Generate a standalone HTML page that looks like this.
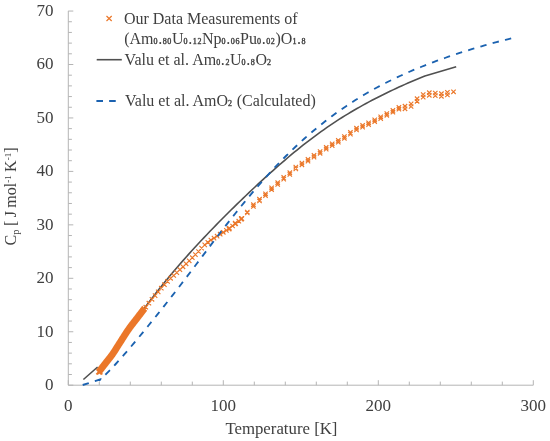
<!DOCTYPE html>
<html><head><meta charset="utf-8"><title>Heat capacity</title>
<style>
html,body{margin:0;padding:0;background:#fff;}
body{width:550px;height:441px;overflow:hidden;}
svg{display:block;}
text{font-family:"Liberation Serif",serif;fill:#404040;}
.t{font-size:17px;}
.l{font-size:16px;}
.s{font-size:8px;letter-spacing:0.62px;stroke:#444;stroke-width:0.4px;}
.d{letter-spacing:0.6px;}
.u{font-size:9px;}
</style></head><body>
<svg width="550" height="441" viewBox="0 0 550 441">
<rect width="550" height="441" fill="#fff"/>
<path d="M68.3,10.9V385.2H533.3" fill="none" stroke="#b4b4b4" stroke-width="1"/>
<path d="M68.3,385.20h5M68.3,374.51h3.6M68.3,363.82h3.6M68.3,353.13h3.6M68.3,342.44h3.6M68.3,331.75h5M68.3,321.06h3.6M68.3,310.37h3.6M68.3,299.68h3.6M68.3,288.99h3.6M68.3,278.30h5M68.3,267.61h3.6M68.3,256.92h3.6M68.3,246.23h3.6M68.3,235.54h3.6M68.3,224.85h5M68.3,214.16h3.6M68.3,203.47h3.6M68.3,192.78h3.6M68.3,182.09h3.6M68.3,171.40h5M68.3,160.71h3.6M68.3,150.02h3.6M68.3,139.33h3.6M68.3,128.64h3.6M68.3,117.95h5M68.3,107.26h3.6M68.3,96.57h3.6M68.3,85.88h3.6M68.3,75.19h3.6M68.3,64.50h5M68.3,53.81h3.6M68.3,43.12h3.6M68.3,32.43h3.6M68.3,21.74h3.6M68.3,11.05h5M68.30,385.2v-5M99.30,385.2v-3.6M130.30,385.2v-3.6M161.30,385.2v-3.6M192.30,385.2v-3.6M223.30,385.2v-5M254.30,385.2v-3.6M285.30,385.2v-3.6M316.30,385.2v-3.6M347.30,385.2v-3.6M378.30,385.2v-5M409.30,385.2v-3.6M440.30,385.2v-3.6M471.30,385.2v-3.6M502.30,385.2v-3.6M533.30,385.2v-5" fill="none" stroke="#b4b4b4" stroke-width="1"/>
<g class="t"><text x="53.5" y="390.0" text-anchor="end">0</text><text x="53.5" y="336.6" text-anchor="end">10</text><text x="53.5" y="283.1" text-anchor="end">20</text><text x="53.5" y="229.7" text-anchor="end">30</text><text x="53.5" y="176.2" text-anchor="end">40</text><text x="53.5" y="122.7" text-anchor="end">50</text><text x="53.5" y="69.3" text-anchor="end">60</text><text x="53.5" y="15.9" text-anchor="end">70</text><text x="68.2" y="411" text-anchor="middle">0</text><text x="223.2" y="411" text-anchor="middle">100</text><text x="378.2" y="411" text-anchor="middle">200</text><text x="533.2" y="411" text-anchor="middle">300</text></g>
<path d="M83.4,379.5L97.6,367M138.0,316.95 L141.0,312.82 L144.0,308.75 L147.0,304.74 L150.0,300.78 L153.0,296.89 L156.0,293.04 L159.0,289.25 L162.0,285.50 L165.0,281.81 L168.0,278.17 L171.0,274.57 L174.0,271.01 L177.0,267.50 L180.0,264.03 L183.0,260.61 L186.0,257.21 L189.0,253.86 L192.0,250.54 L195.0,247.26 L198.0,244.01 L201.0,240.79 L204.0,237.60 L207.0,234.43 L210.0,231.30 L213.0,228.19 L216.0,225.10 L219.0,222.04 L222.0,219.01 L225.0,215.99 L228.0,213.00 L231.0,210.03 L234.0,207.07 L237.0,204.14 L240.0,201.23 L243.0,198.34 L246.0,195.46 L249.0,192.61 L252.0,189.78 L255.0,186.96 L258.0,184.17 L261.0,181.40 L264.0,178.65 L267.0,175.92 L270.0,173.21 L273.0,170.53 L276.0,167.87 L279.0,165.23 L282.0,162.63 L285.0,160.05 L288.0,157.50 L291.0,154.98 L294.0,152.49 L297.0,150.03 L300.0,147.61 L303.0,145.22 L306.0,142.87 L309.0,140.55 L312.0,138.27 L315.0,136.03 L318.0,133.83 L321.0,131.66 L324.0,129.53 L327.0,127.44 L330.0,125.39 L333.0,123.37 L336.0,121.39 L339.0,119.45 L342.0,117.55 L345.0,115.68 L348.0,113.84 L351.0,112.04 L354.0,110.28 L357.0,108.54 L360.0,106.84 L363.0,105.17 L366.0,103.53 L369.0,101.91 L372.0,100.32 L375.0,98.76 L378.0,97.22 L381.0,95.71 L384.0,94.22 L387.0,92.75 L390.0,91.30 L393.0,89.88 L396.0,88.47 L399.0,87.09 L402.0,85.72 L405.0,84.38 L408.0,83.05 L411.0,81.74 L414.0,80.45 L417.0,79.18 L420.0,77.93 L423.0,76.70 L424.9,75.93L456.2,66.7" fill="none" stroke="#505050" stroke-width="1.6" stroke-linejoin="round"/>
<path d="M143.6,305.0l4.4,4.4m-4.4,0l4.4,-4.4M146.7,301.0l4.4,4.4m-4.4,0l4.4,-4.4M149.8,297.1l4.4,4.4m-4.4,0l4.4,-4.4M152.9,293.4l4.4,4.4m-4.4,0l4.4,-4.4M156.0,289.7l4.4,4.4m-4.4,0l4.4,-4.4M159.1,286.0l4.4,4.4m-4.4,0l4.4,-4.4M162.2,282.5l4.4,4.4m-4.4,0l4.4,-4.4M165.3,279.2l4.4,4.4m-4.4,0l4.4,-4.4M168.4,276.1l4.4,4.4m-4.4,0l4.4,-4.4M171.5,273.3l4.4,4.4m-4.4,0l4.4,-4.4M174.6,270.4l4.4,4.4m-4.4,0l4.4,-4.4M177.7,267.5l4.4,4.4m-4.4,0l4.4,-4.4M180.8,264.6l4.4,4.4m-4.4,0l4.4,-4.4M183.9,261.6l4.4,4.4m-4.4,0l4.4,-4.4M187.0,258.6l4.4,4.4m-4.4,0l4.4,-4.4M190.1,255.5l4.4,4.4m-4.4,0l4.4,-4.4M193.2,252.4l4.4,4.4m-4.4,0l4.4,-4.4M196.3,249.3l4.4,4.4m-4.4,0l4.4,-4.4M199.4,245.9l4.4,4.4m-4.4,0l4.4,-4.4M202.5,242.7l4.4,4.4m-4.4,0l4.4,-4.4M205.6,240.1l4.4,4.4m-4.4,0l4.4,-4.4M208.7,237.9l4.4,4.4m-4.4,0l4.4,-4.4M211.8,235.9l4.4,4.4m-4.4,0l4.4,-4.4M214.9,233.9l4.4,4.4m-4.4,0l4.4,-4.4M218.0,232.0l4.4,4.4m-4.4,0l4.4,-4.4M221.1,230.1l4.4,4.4m-4.4,0l4.4,-4.4M224.2,228.2l4.4,4.4m-4.4,0l4.4,-4.4M227.3,226.1l4.4,4.4m-4.4,0l4.4,-4.4M230.4,223.8l4.4,4.4m-4.4,0l4.4,-4.4M233.5,221.4l4.4,4.4m-4.4,0l4.4,-4.4M236.6,219.0l4.4,4.4m-4.4,0l4.4,-4.4M239.7,216.4l4.4,4.4m-4.4,0l4.4,-4.4M226.9,226.2l4.4,4.4m-4.4,0l4.4,-4.4M233.0,220.8l4.4,4.4m-4.4,0l4.4,-4.4M239.1,216.3l4.4,4.4m-4.4,0l4.4,-4.4M245.1,209.8l4.4,4.4m-4.4,0l4.4,-4.4M251.2,202.5l4.4,4.4m-4.4,0l4.4,-4.4M257.3,197.0l4.4,4.4m-4.4,0l4.4,-4.4M263.3,191.6l4.4,4.4m-4.4,0l4.4,-4.4M269.4,185.7l4.4,4.4m-4.4,0l4.4,-4.4M275.5,180.5l4.4,4.4m-4.4,0l4.4,-4.4M281.5,175.1l4.4,4.4m-4.4,0l4.4,-4.4M287.6,170.5l4.4,4.4m-4.4,0l4.4,-4.4M293.6,164.9l4.4,4.4m-4.4,0l4.4,-4.4M299.7,160.8l4.4,4.4m-4.4,0l4.4,-4.4M305.8,157.1l4.4,4.4m-4.4,0l4.4,-4.4M311.8,153.1l4.4,4.4m-4.4,0l4.4,-4.4M317.9,149.3l4.4,4.4m-4.4,0l4.4,-4.4M324.0,145.1l4.4,4.4m-4.4,0l4.4,-4.4M330.0,141.6l4.4,4.4m-4.4,0l4.4,-4.4M336.1,138.2l4.4,4.4m-4.4,0l4.4,-4.4M342.2,134.3l4.4,4.4m-4.4,0l4.4,-4.4M348.2,130.1l4.4,4.4m-4.4,0l4.4,-4.4M354.3,126.0l4.4,4.4m-4.4,0l4.4,-4.4M360.4,123.1l4.4,4.4m-4.4,0l4.4,-4.4M366.4,120.6l4.4,4.4m-4.4,0l4.4,-4.4M372.5,117.7l4.4,4.4m-4.4,0l4.4,-4.4M378.5,114.6l4.4,4.4m-4.4,0l4.4,-4.4M384.6,111.3l4.4,4.4m-4.4,0l4.4,-4.4M390.7,108.2l4.4,4.4m-4.4,0l4.4,-4.4M396.7,105.2l4.4,4.4m-4.4,0l4.4,-4.4M402.8,104.0l4.4,4.4m-4.4,0l4.4,-4.4M408.9,101.7l4.4,4.4m-4.4,0l4.4,-4.4M414.9,96.5l4.4,4.4m-4.4,0l4.4,-4.4M421.0,92.3l4.4,4.4m-4.4,0l4.4,-4.4M427.1,90.5l4.4,4.4m-4.4,0l4.4,-4.4M433.1,90.8l4.4,4.4m-4.4,0l4.4,-4.4M439.2,91.5l4.4,4.4m-4.4,0l4.4,-4.4M445.2,90.1l4.4,4.4m-4.4,0l4.4,-4.4M451.3,89.6l4.4,4.4m-4.4,0l4.4,-4.4M226.9,227.0l4.4,4.4m-4.4,0l4.4,-4.4M233.0,221.6l4.4,4.4m-4.4,0l4.4,-4.4M239.1,217.1l4.4,4.4m-4.4,0l4.4,-4.4M245.1,210.6l4.4,4.4m-4.4,0l4.4,-4.4M251.2,204.3l4.4,4.4m-4.4,0l4.4,-4.4M257.3,198.8l4.4,4.4m-4.4,0l4.4,-4.4M263.3,193.4l4.4,4.4m-4.4,0l4.4,-4.4M269.4,187.5l4.4,4.4m-4.4,0l4.4,-4.4M275.5,182.3l4.4,4.4m-4.4,0l4.4,-4.4M281.5,176.9l4.4,4.4m-4.4,0l4.4,-4.4M287.6,172.3l4.4,4.4m-4.4,0l4.4,-4.4M293.6,166.7l4.4,4.4m-4.4,0l4.4,-4.4M299.7,162.6l4.4,4.4m-4.4,0l4.4,-4.4M305.8,158.9l4.4,4.4m-4.4,0l4.4,-4.4M311.8,154.9l4.4,4.4m-4.4,0l4.4,-4.4M317.9,151.1l4.4,4.4m-4.4,0l4.4,-4.4M324.0,146.9l4.4,4.4m-4.4,0l4.4,-4.4M330.0,143.4l4.4,4.4m-4.4,0l4.4,-4.4M336.1,140.0l4.4,4.4m-4.4,0l4.4,-4.4M342.2,136.1l4.4,4.4m-4.4,0l4.4,-4.4M348.2,131.9l4.4,4.4m-4.4,0l4.4,-4.4M354.3,127.8l4.4,4.4m-4.4,0l4.4,-4.4M360.4,124.9l4.4,4.4m-4.4,0l4.4,-4.4M366.4,122.4l4.4,4.4m-4.4,0l4.4,-4.4M372.5,119.5l4.4,4.4m-4.4,0l4.4,-4.4M378.5,116.4l4.4,4.4m-4.4,0l4.4,-4.4M384.6,113.1l4.4,4.4m-4.4,0l4.4,-4.4M390.7,110.0l4.4,4.4m-4.4,0l4.4,-4.4M396.7,107.0l4.4,4.4m-4.4,0l4.4,-4.4M402.8,106.6l4.4,4.4m-4.4,0l4.4,-4.4M408.9,104.3l4.4,4.4m-4.4,0l4.4,-4.4M414.9,99.1l4.4,4.4m-4.4,0l4.4,-4.4M421.0,94.9l4.4,4.4m-4.4,0l4.4,-4.4M427.1,93.1l4.4,4.4m-4.4,0l4.4,-4.4M433.1,93.4l4.4,4.4m-4.4,0l4.4,-4.4M439.2,94.1l4.4,4.4m-4.4,0l4.4,-4.4M445.2,92.7l4.4,4.4m-4.4,0l4.4,-4.4" fill="none" stroke="#eb7729" stroke-width="1.15"/>
<path d="M96.8,368.8l4.9,4.9m-4.9,0l4.9,-4.9M97.1,368.4l4.9,4.9m-4.9,0l4.9,-4.9M97.4,368.0l4.9,4.9m-4.9,0l4.9,-4.9M97.7,367.6l4.9,4.9m-4.9,0l4.9,-4.9M98.0,367.2l4.9,4.9m-4.9,0l4.9,-4.9M98.3,366.8l4.9,4.9m-4.9,0l4.9,-4.9M98.6,366.5l4.9,4.9m-4.9,0l4.9,-4.9M98.9,366.1l4.9,4.9m-4.9,0l4.9,-4.9M99.2,365.7l4.9,4.9m-4.9,0l4.9,-4.9M99.5,365.3l4.9,4.9m-4.9,0l4.9,-4.9M99.8,364.9l4.9,4.9m-4.9,0l4.9,-4.9M100.1,364.5l4.9,4.9m-4.9,0l4.9,-4.9M100.4,364.1l4.9,4.9m-4.9,0l4.9,-4.9M100.7,363.8l4.9,4.9m-4.9,0l4.9,-4.9M101.0,363.4l4.9,4.9m-4.9,0l4.9,-4.9M101.3,363.0l4.9,4.9m-4.9,0l4.9,-4.9M101.6,362.6l4.9,4.9m-4.9,0l4.9,-4.9M101.9,362.2l4.9,4.9m-4.9,0l4.9,-4.9M102.2,361.8l4.9,4.9m-4.9,0l4.9,-4.9M102.5,361.5l4.9,4.9m-4.9,0l4.9,-4.9M102.8,361.1l4.9,4.9m-4.9,0l4.9,-4.9M103.1,360.7l4.9,4.9m-4.9,0l4.9,-4.9M103.4,360.3l4.9,4.9m-4.9,0l4.9,-4.9M103.7,359.9l4.9,4.9m-4.9,0l4.9,-4.9M104.0,359.5l4.9,4.9m-4.9,0l4.9,-4.9M104.3,359.1l4.9,4.9m-4.9,0l4.9,-4.9M104.6,358.8l4.9,4.9m-4.9,0l4.9,-4.9M104.9,358.4l4.9,4.9m-4.9,0l4.9,-4.9M105.2,358.0l4.9,4.9m-4.9,0l4.9,-4.9M105.5,357.6l4.9,4.9m-4.9,0l4.9,-4.9M105.8,357.3l4.9,4.9m-4.9,0l4.9,-4.9M106.1,356.9l4.9,4.9m-4.9,0l4.9,-4.9M106.4,356.5l4.9,4.9m-4.9,0l4.9,-4.9M106.7,356.1l4.9,4.9m-4.9,0l4.9,-4.9M107.0,355.7l4.9,4.9m-4.9,0l4.9,-4.9M107.3,355.4l4.9,4.9m-4.9,0l4.9,-4.9M107.6,355.0l4.9,4.9m-4.9,0l4.9,-4.9M107.9,354.6l4.9,4.9m-4.9,0l4.9,-4.9M108.2,354.2l4.9,4.9m-4.9,0l4.9,-4.9M108.5,353.8l4.9,4.9m-4.9,0l4.9,-4.9M108.8,353.4l4.9,4.9m-4.9,0l4.9,-4.9M109.1,353.0l4.9,4.9m-4.9,0l4.9,-4.9M109.4,352.6l4.9,4.9m-4.9,0l4.9,-4.9M109.7,352.2l4.9,4.9m-4.9,0l4.9,-4.9M110.0,351.8l4.9,4.9m-4.9,0l4.9,-4.9M110.3,351.3l4.9,4.9m-4.9,0l4.9,-4.9M110.6,350.9l4.9,4.9m-4.9,0l4.9,-4.9M110.9,350.5l4.9,4.9m-4.9,0l4.9,-4.9M111.2,350.0l4.9,4.9m-4.9,0l4.9,-4.9M111.5,349.6l4.9,4.9m-4.9,0l4.9,-4.9M111.8,349.1l4.9,4.9m-4.9,0l4.9,-4.9M112.1,348.7l4.9,4.9m-4.9,0l4.9,-4.9M112.4,348.2l4.9,4.9m-4.9,0l4.9,-4.9M112.7,347.7l4.9,4.9m-4.9,0l4.9,-4.9M113.0,347.3l4.9,4.9m-4.9,0l4.9,-4.9M113.3,346.8l4.9,4.9m-4.9,0l4.9,-4.9M113.6,346.3l4.9,4.9m-4.9,0l4.9,-4.9M113.9,345.8l4.9,4.9m-4.9,0l4.9,-4.9M114.2,345.4l4.9,4.9m-4.9,0l4.9,-4.9M114.5,344.9l4.9,4.9m-4.9,0l4.9,-4.9M114.8,344.4l4.9,4.9m-4.9,0l4.9,-4.9M115.1,343.9l4.9,4.9m-4.9,0l4.9,-4.9M115.4,343.5l4.9,4.9m-4.9,0l4.9,-4.9M115.7,343.0l4.9,4.9m-4.9,0l4.9,-4.9M116.0,342.5l4.9,4.9m-4.9,0l4.9,-4.9M116.3,342.0l4.9,4.9m-4.9,0l4.9,-4.9M116.6,341.5l4.9,4.9m-4.9,0l4.9,-4.9M116.9,341.1l4.9,4.9m-4.9,0l4.9,-4.9M117.2,340.6l4.9,4.9m-4.9,0l4.9,-4.9M117.5,340.1l4.9,4.9m-4.9,0l4.9,-4.9M117.8,339.7l4.9,4.9m-4.9,0l4.9,-4.9M118.1,339.2l4.9,4.9m-4.9,0l4.9,-4.9M118.4,338.7l4.9,4.9m-4.9,0l4.9,-4.9M118.7,338.3l4.9,4.9m-4.9,0l4.9,-4.9M119.0,337.8l4.9,4.9m-4.9,0l4.9,-4.9M119.3,337.3l4.9,4.9m-4.9,0l4.9,-4.9M119.6,336.9l4.9,4.9m-4.9,0l4.9,-4.9M119.9,336.4l4.9,4.9m-4.9,0l4.9,-4.9M120.2,335.9l4.9,4.9m-4.9,0l4.9,-4.9M120.5,335.4l4.9,4.9m-4.9,0l4.9,-4.9M120.8,335.0l4.9,4.9m-4.9,0l4.9,-4.9M121.1,334.5l4.9,4.9m-4.9,0l4.9,-4.9M121.4,334.0l4.9,4.9m-4.9,0l4.9,-4.9M121.7,333.6l4.9,4.9m-4.9,0l4.9,-4.9M122.0,333.1l4.9,4.9m-4.9,0l4.9,-4.9M122.3,332.6l4.9,4.9m-4.9,0l4.9,-4.9M122.6,332.1l4.9,4.9m-4.9,0l4.9,-4.9M122.9,331.7l4.9,4.9m-4.9,0l4.9,-4.9M123.2,331.2l4.9,4.9m-4.9,0l4.9,-4.9M123.5,330.7l4.9,4.9m-4.9,0l4.9,-4.9M123.8,330.3l4.9,4.9m-4.9,0l4.9,-4.9M124.1,329.8l4.9,4.9m-4.9,0l4.9,-4.9M124.4,329.4l4.9,4.9m-4.9,0l4.9,-4.9M124.7,328.9l4.9,4.9m-4.9,0l4.9,-4.9M125.0,328.5l4.9,4.9m-4.9,0l4.9,-4.9M125.3,328.0l4.9,4.9m-4.9,0l4.9,-4.9M125.6,327.6l4.9,4.9m-4.9,0l4.9,-4.9M125.9,327.2l4.9,4.9m-4.9,0l4.9,-4.9M126.2,326.7l4.9,4.9m-4.9,0l4.9,-4.9M126.5,326.3l4.9,4.9m-4.9,0l4.9,-4.9M126.8,325.9l4.9,4.9m-4.9,0l4.9,-4.9M127.1,325.5l4.9,4.9m-4.9,0l4.9,-4.9M127.4,325.0l4.9,4.9m-4.9,0l4.9,-4.9M127.7,324.6l4.9,4.9m-4.9,0l4.9,-4.9M128.0,324.2l4.9,4.9m-4.9,0l4.9,-4.9M128.3,323.8l4.9,4.9m-4.9,0l4.9,-4.9M128.6,323.4l4.9,4.9m-4.9,0l4.9,-4.9M128.9,323.0l4.9,4.9m-4.9,0l4.9,-4.9M129.2,322.6l4.9,4.9m-4.9,0l4.9,-4.9M129.5,322.2l4.9,4.9m-4.9,0l4.9,-4.9M129.8,321.8l4.9,4.9m-4.9,0l4.9,-4.9M130.1,321.5l4.9,4.9m-4.9,0l4.9,-4.9M130.4,321.1l4.9,4.9m-4.9,0l4.9,-4.9M130.7,320.7l4.9,4.9m-4.9,0l4.9,-4.9M131.0,320.3l4.9,4.9m-4.9,0l4.9,-4.9M131.3,319.9l4.9,4.9m-4.9,0l4.9,-4.9M131.6,319.5l4.9,4.9m-4.9,0l4.9,-4.9M131.9,319.1l4.9,4.9m-4.9,0l4.9,-4.9M132.2,318.8l4.9,4.9m-4.9,0l4.9,-4.9M132.5,318.4l4.9,4.9m-4.9,0l4.9,-4.9M132.8,318.0l4.9,4.9m-4.9,0l4.9,-4.9M133.1,317.6l4.9,4.9m-4.9,0l4.9,-4.9M133.4,317.2l4.9,4.9m-4.9,0l4.9,-4.9M133.7,316.8l4.9,4.9m-4.9,0l4.9,-4.9M134.0,316.5l4.9,4.9m-4.9,0l4.9,-4.9M134.3,316.1l4.9,4.9m-4.9,0l4.9,-4.9M134.6,315.7l4.9,4.9m-4.9,0l4.9,-4.9M134.9,315.3l4.9,4.9m-4.9,0l4.9,-4.9M135.2,314.9l4.9,4.9m-4.9,0l4.9,-4.9M135.5,314.5l4.9,4.9m-4.9,0l4.9,-4.9M135.8,314.1l4.9,4.9m-4.9,0l4.9,-4.9M136.1,313.7l4.9,4.9m-4.9,0l4.9,-4.9M136.4,313.3l4.9,4.9m-4.9,0l4.9,-4.9M136.7,312.9l4.9,4.9m-4.9,0l4.9,-4.9M137.0,312.5l4.9,4.9m-4.9,0l4.9,-4.9M137.3,312.2l4.9,4.9m-4.9,0l4.9,-4.9M137.6,311.8l4.9,4.9m-4.9,0l4.9,-4.9M137.9,311.4l4.9,4.9m-4.9,0l4.9,-4.9M138.2,311.0l4.9,4.9m-4.9,0l4.9,-4.9M138.5,310.6l4.9,4.9m-4.9,0l4.9,-4.9M138.8,310.2l4.9,4.9m-4.9,0l4.9,-4.9M139.1,309.8l4.9,4.9m-4.9,0l4.9,-4.9M139.4,309.4l4.9,4.9m-4.9,0l4.9,-4.9M139.7,309.0l4.9,4.9m-4.9,0l4.9,-4.9M140.0,308.6l4.9,4.9m-4.9,0l4.9,-4.9M140.3,308.2l4.9,4.9m-4.9,0l4.9,-4.9M140.6,307.8l4.9,4.9m-4.9,0l4.9,-4.9M140.9,307.5l4.9,4.9m-4.9,0l4.9,-4.9M141.2,307.1l4.9,4.9m-4.9,0l4.9,-4.9M141.5,306.7l4.9,4.9m-4.9,0l4.9,-4.9M141.8,306.3l4.9,4.9m-4.9,0l4.9,-4.9M96.2,369.4l4.9,4.9m-4.9,0l4.9,-4.9M97.0,369.6l4.9,4.9m-4.9,0l4.9,-4.9M97.6,369.4l4.9,4.9m-4.9,0l4.9,-4.9" fill="none" stroke="#eb7729" stroke-width="1.3"/>
<path d="M82.7,385L100.5,379.3L100.5,379.37 L103.5,376.56 L106.5,373.63 L109.5,370.60 L112.5,367.47 L115.5,364.25 L118.5,360.96 L121.5,357.61 L124.5,354.19 L127.5,350.73 L130.5,347.22 L133.5,343.67 L136.5,340.09 L139.5,336.48 L142.5,332.85 L145.5,329.19 L148.5,325.52 L151.5,321.82 L154.5,318.11 L157.5,314.37 L160.5,310.62 L163.5,306.84 L166.5,303.05 L169.5,299.23 L172.5,295.39 L175.5,291.53 L178.5,287.66 L181.5,283.76 L184.5,279.84 L187.5,275.91 L190.5,271.97 L193.5,268.01 L196.5,264.04 L199.5,260.07 L202.5,256.09 L205.5,252.12 L208.5,248.14 L211.5,244.18 L214.5,240.23 L217.5,236.29 L220.5,232.38 L223.5,228.48 L226.5,224.62 L229.5,220.78 L232.5,216.98 L235.5,213.21 L238.5,209.47 L241.5,205.77 L244.5,202.11 L247.5,198.49 L250.5,194.91 L253.5,191.37 L256.5,187.88 L259.5,184.42 L262.5,181.01 L265.5,177.65 L268.5,174.33 L271.5,171.06 L274.5,167.85 L277.5,164.68 L280.5,161.56 L283.5,158.50 L286.5,155.49 L289.5,152.53 L292.5,149.63 L295.5,146.77 L298.5,143.98 L301.5,141.23 L304.5,138.53 L307.5,135.89 L310.5,133.29 L313.5,130.75 L316.5,128.26 L319.5,125.81 L322.5,123.41 L325.5,121.06 L328.5,118.76 L331.5,116.50 L334.5,114.29 L337.5,112.13 L340.5,110.00 L343.5,107.93 L346.5,105.89 L349.5,103.90 L352.5,101.95 L355.5,100.04 L358.5,98.17 L361.5,96.34 L364.5,94.54 L367.5,92.79 L370.5,91.07 L373.5,89.39 L376.5,87.74 L379.5,86.13 L382.5,84.56 L385.5,83.01 L388.5,81.50 L391.5,80.02 L394.5,78.57 L397.5,77.15 L400.5,75.76 L403.5,74.40 L406.5,73.06 L409.5,71.75 L412.5,70.46 L415.5,69.20 L418.5,67.96 L421.5,66.75 L424.5,65.55 L427.5,64.38 L430.5,63.23 L433.5,62.10 L436.5,60.98 L439.5,59.89 L442.5,58.81 L445.5,57.75 L448.5,56.71 L451.5,55.68 L454.5,54.67 L457.5,53.68 L460.5,52.70 L463.5,51.74 L466.5,50.79 L469.5,49.85 L472.5,48.94 L475.5,48.03 L478.5,47.14 L481.5,46.27 L484.5,45.41 L487.5,44.57 L490.5,43.74 L493.5,42.92 L496.5,42.12 L499.5,41.34 L502.5,40.57 L505.5,39.82 L508.5,39.09 L511.5,38.37 L511.7,38.32" fill="none" stroke="#1b62b0" stroke-width="1.85" stroke-dasharray="6.4 6.34"/>
<!-- legend -->
<path d="M106.5,16l5.2,5M106.5,21l5.2,-5" stroke="#eb7729" stroke-width="1.2" fill="none"/>
<path d="M96.7,59.7H121.8" stroke="#505050" stroke-width="1.6"/>
<path d="M96.4,101H116.2" stroke="#1b62b0" stroke-width="1.85" stroke-dasharray="6.6 6.14"/>
<g class="l">
<text x="123.9" y="24.2">Our Data Measurements of</text>
<text x="124.2" y="43.7">(Am<tspan class="s">0</tspan><tspan class="d">.</tspan><tspan class="s">80</tspan>U<tspan class="s">0</tspan><tspan class="d">.</tspan><tspan class="s">12</tspan>Np<tspan class="s">0</tspan><tspan class="d">.</tspan><tspan class="s">06</tspan>Pu<tspan class="s">0</tspan><tspan class="d">.</tspan><tspan class="s">02</tspan>)O<tspan class="s">1</tspan><tspan class="d">.</tspan><tspan class="s">8</tspan></text>
<text x="124.6" y="64.9">Valu et al. Am<tspan class="s">0</tspan><tspan class="d">.</tspan><tspan class="s">2</tspan>U<tspan class="s">0</tspan><tspan class="d">.</tspan><tspan class="s">8</tspan>O<tspan class="s">2</tspan></text>
<text x="125" y="106">Valu et al. AmO<tspan class="s">2</tspan> (Calculated)</text>
<text x="225.4" y="434" style="font-size:16.8px">Temperature [K]</text>
<text transform="translate(16.2,245.4) rotate(-90)" style="font-size:16px;word-spacing:-0.6px">C<tspan style="font-size:10.5px" dy="3">p</tspan><tspan dy="-3"> [ J mol</tspan><tspan class="u" dy="-5">-1</tspan><tspan dy="5"> K</tspan><tspan class="u" dy="-5">-1</tspan><tspan dy="5">]</tspan></text>
</g>
</svg>
</body></html>
